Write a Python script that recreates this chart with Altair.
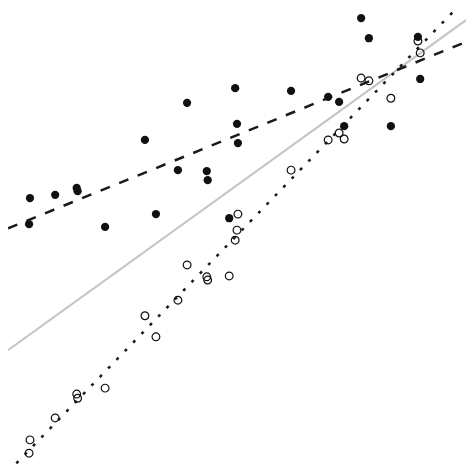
import altair as alt
import pandas as pd

# paired measurements: same x for both groups
x_vals = [0.46, 0.48, 1.03, 1.50, 1.52, 2.12, 2.99, 3.23, 3.71, 3.91,
          4.34, 4.36, 4.83, 4.96, 5.00, 5.02, 6.18, 6.99, 7.23, 7.34,
          7.71, 7.88, 8.36, 8.95, 9.00]
filled_y = [5.28, 5.85, 5.92, 6.07, 6.00, 5.22, 7.12, 5.50, 6.46, 7.93,
            6.44, 6.24, 5.41, 8.25, 7.47, 7.05, 8.19, 8.06, 7.95, 7.42,
            9.78, 9.34, 7.42, 9.37, 8.45]
open_y = [0.28, 0.57, 1.05, 1.57, 1.48, 1.70, 3.28, 2.82, 3.62, 4.39,
          4.13, 4.06, 4.15, 4.93, 5.15, 5.50, 6.46, 7.12, 7.27, 7.14,
          8.47, 8.41, 8.03, 9.28, 9.02]

df = pd.DataFrame({
    'x': x_vals + x_vals,
    'y': filled_y + open_y,
    'group': ['filled'] * len(x_vals) + ['open'] * len(x_vals),
})

xs = alt.Scale(domain=[0, 10], nice=False, zero=False)
ys = alt.Scale(domain=[0, 10], nice=False, zero=False)
X = alt.X('x:Q', scale=xs, axis=None)
Y = alt.Y('y:Q', scale=ys, axis=None)

base = alt.Chart(df)

# overall fit (gray solid)
all_fit = base.transform_regression('x', 'y', extent=[0, 10]).mark_line(
    color='#c4c4c4', strokeWidth=2
).encode(x=X, y=Y)

# filled group fit (dashed)
filled_fit = base.transform_filter(alt.datum.group == 'filled').transform_regression(
    'x', 'y', extent=[0, 10]
).mark_line(color='#1a1a1a', strokeWidth=2.5, strokeDash=[10, 10]).encode(x=X, y=Y)

# open group fit (dotted)
open_fit = base.transform_filter(alt.datum.group == 'open').transform_regression(
    'x', 'y', extent=[0, 10]
).mark_line(color='#1a1a1a', strokeWidth=2.5, strokeDash=[3, 9]).encode(x=X, y=Y)

filled_pts = base.transform_filter(alt.datum.group == 'filled').mark_circle(
    size=68, color='#111111', opacity=1
).encode(x=X, y=Y)

open_pts = base.transform_filter(alt.datum.group == 'open').mark_point(
    shape='circle', filled=False, size=60, color='#111111', strokeWidth=1.2, opacity=1
).encode(x=X, y=Y)

chart = alt.layer(all_fit, filled_fit, open_fit, filled_pts, open_pts).properties(
    width=458, height=458, padding=0,
    autosize=alt.AutoSizeParams(type='none'),
).configure_view(stroke=None)

chart.save("out.html", embed_options={"renderer": "svg", "actions": False})
